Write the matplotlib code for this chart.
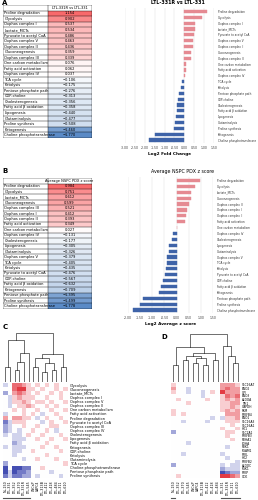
import numpy as np
import matplotlib
matplotlib.use("Agg")
import matplotlib.pyplot as plt
import matplotlib.transforms as mtransforms
from matplotlib.colors import LinearSegmentedColormap, TwoSlopeNorm

W, H = 258, 500

# ---- panel A data ----
a_names = ["Proline degradation", "Glycolysis", "Oxphos complex I", "Lactate_MCTs",
           "Pyruvate to acetyl CoA", "Oxphos complex V", "Oxphos complex II",
           "Gluconeogenesis", "Oxphos complex III", "One carbon metabolism",
           "Fatty acid activation", "Oxphos complex IV", "TCA cycle", "Ketolysis",
           "Pentose phosphate path", "CDP-choline", "Cholesterogenesis",
           "Fatty acid \u03b2 oxidation", "Lipogenesis", "Glutaminolysis",
           "Proline synthesis", "Ketogenesis", "Choline phosphotransferase"]
a_vals = [1.154, 0.902, 0.537, 0.534, 0.486, 0.463, 0.436, 0.359, 0.339, 0.076,
          0.062, 0.037, -0.106, -0.175, -0.276, -0.313, -0.356, -0.358, -0.440,
          -0.477, -0.508, -1.460, -1.770]
a_header = "LTL-331R vs LTL-331"

# ---- panel B data ----
b_names = ["Proline degradation", "Glycolysis", "Lactate_MCTs", "Gluconeogenesis",
           "Oxphos complex III", "Oxphos complex I", "Oxphos complex II",
           "Fatty acid activation", "One carbon metabolism", "Oxphos complex IV",
           "Cholesterogenesis", "Lipogenesis", "Glutaminolysis", "Oxphos complex V",
           "TCA cycle", "Ketolysis", "Pyruvate to acetyl CoA", "CDP-choline",
           "Fatty acid \u03b2 oxidation", "Ketogenesis", "Pentose phosphate path",
           "Proline synthesis", "Choline phosphotransferase"]
b_vals = [0.984, 0.751, 0.612, 0.599, 0.521, 0.412, 0.393, 0.349, 0.027, -0.131,
          -0.177, -0.305, -0.326, -0.379, -0.405, -0.435, -0.476, -0.567, -0.632,
          -0.709, -1.395, -1.499, -1.778]
b_header = "Average NSPC PDX z score"

# ---- panel C data (levels 0..8, 4 = neutral) ----
c_rows = ["Glycolysis", "Gluconeogenesis", "Lactate_MCTs", "Oxphos complex I",
          "Oxphos complex V", "Oxphos complex II", "One carbon metabolism",
          "Fatty acid activation", "Proline degradation", "Pyruvate to acetyl CoA",
          "Oxphos complex III", "Oxphos complex IV", "Cholesterogenesis",
          "Lipogenesis", "Fatty acid \u03b2 oxidation", "Ketogenesis", "CDP-choline",
          "Ketolysis", "Glutaminolysis", "TCA cycle", "Choline phosphotransferase",
          "Pentose phosphate path", "Proline synthesis"]
c_cols = ["NL-150", "LTL-331", "LTL-352", "LTL-370", "LTL-331R", "LTL-545",
          "LNCaP", "LAPC4", "LTL-313B", "LTL-412", "LTL-418", "LTL-484",
          "LTL-311", "LTL-610"]
c_levels = ["34776545454544", "44788554544545", "24676545445454",
            "43565554454454", "43556545545445", "43455654454544",
            "44545445445445", "34445454344544", "64665543454454",
            "13555444345445", "23445445445544", "23434454454344",
            "34334544544454", "44333445445445", "44234444454444",
            "34333444544544", "44334454444454", "44344444454444",
            "44443445444544", "24444444444445", "04001144544444",
            "03011244443444", "13112243444434"]
c_tree = [(0, 1, 0.30), (2, 3, 0.25), (15, 4, 0.40), (16, 5, 0.60), (14, 17, 0.85),
          (6, 7, 0.30), (8, 9, 0.20), (10, 11, 0.25), (12, 13, 0.30),
          (20, 21, 0.38), (19, 23, 0.48), (24, 22, 0.58), (18, 25, 1.0)]
c_groups = [(0, 5)]

# ---- panel D data ----
d_rows = ["SLC16A7", "ENO2", "GPI", "ENO3", "ALDOA", "TPI1", "GAPDH", "PKM",
          "PFKFB4", "ENO1", "SLC16A3", "SLC16A1", "HK1", "SLC2A1", "PFKFB3",
          "PDHA1", "LDHA", "PDK1", "PGAM1", "PFKL", "HK2", "PFKFB2", "ALDOC",
          "PGK1", "PFKP", "GCK"]
d_cols = ["NL-150", "LTL-352", "LTL-370", "LTL-545", "LNCaP", "LAPC4",
          "LTL-313B", "LTL-412", "LTL-418", "LTL-484", "LTL-331", "LTL-331R",
          "LTL-311", "LTL-610"]
d_levels = ["54444444446665", "64434444446766", "54434434548666",
            "44444434445767", "45444445445656", "44454444445566",
            "44444444445565", "54444444445656", "54544444444666",
            "44444444343556", "44344443444555", "44444444444454",
            "44444444445445", "24444444444554", "44444444444544",
            "44444444444454", "44434444444444", "44444444444344",
            "44444444444444", "44344444443444", "44444444444344",
            "44444444444443", "24444444443433", "44444444442333",
            "44444444440122", "45444444448876"]
d_tree = [(0, 1, 0.35), (2, 3, 0.45), (4, 5, 0.40), (6, 7, 0.35), (16, 17, 0.50),
          (15, 18, 0.55), (8, 9, 0.45), (19, 20, 0.60), (14, 21, 0.72),
          (12, 13, 0.40), (11, 23, 0.55), (10, 24, 0.75), (22, 25, 1.0)]
d_groups = [(0, 0), (10, 13)]

cmap_tab = LinearSegmentedColormap.from_list("tab", ["#5a8ac6", "#ffffff", "#f8696b"])
cmap_hm = LinearSegmentedColormap.from_list("hm", ["#2a35a8", "#ffffff", "#e0202a"])
pos_bar, neg_bar = "#e58a92", "#3e63a8"


def box(x0, y0, x1, y1):
    return [x0 / W, 1 - y1 / H, (x1 - x0) / W, (y1 - y0) / H]


fig = plt.figure(figsize=(W / 100, H / 100), dpi=100)


def table(rect, names, vals, header):
    ax = fig.add_axes(box(*rect))
    n = len(vals)
    norm = TwoSlopeNorm(vmin=min(vals), vcenter=0, vmax=max(vals))
    ax.barh(np.arange(n) + 1.5, 0.5, left=0.5, height=1,
            color=[cmap_tab(norm(v)) for v in vals])
    ax.hlines(np.arange(n + 2), 0, 1, color="black", lw=0.3)
    ax.vlines([0, 0.5, 1], 0, n + 1, color="black", lw=0.3)
    for i, (nm, v) in enumerate(zip(names, vals)):
        ax.text(0.01, i + 1.5, nm, fontsize=2.6, va="center", ha="left")
        ax.text(0.75, i + 1.5, "%.3f" % v if v >= 0 else "\u2212%.3f" % -v,
                fontsize=2.6, va="center", ha="center")
    ax.text(0.75, 0.5, header, fontsize=2.6, va="center", ha="center")
    ax.set_xlim(-0.005, 1.005)
    ax.set_ylim(n + 1.02, -0.02)
    ax.axis("off")


def bars(rect, names, vals, xlim, title, title_x, xlabel, tbold):
    ax = fig.add_axes(box(*rect))
    n = len(vals)
    cols = [pos_bar if v > 0 else neg_bar for v in vals]
    ax.barh(np.arange(n), vals, height=0.55, color=cols, edgecolor=cols, lw=0.3)
    ax.set_ylim(n - 0.5, -0.6)
    ax.set_xlim(*xlim)
    ticks = np.arange(xlim[0], xlim[1] + 0.01, 0.5)
    ax.set_xticks(ticks)
    ax.set_xticklabels(["%.2f" % t for t in ticks], fontsize=2.2, color="#333333")
    ax.set_yticks(np.arange(n))
    ax.set_yticklabels(names, fontsize=2.0, color="#333333")
    ax.yaxis.tick_right()
    ax.tick_params(length=0, pad=2)
    ax.tick_params(axis="y", pad=3)
    ax.grid(axis="x", color="#d9d9d9", lw=0.3)
    ax.set_axisbelow(True)
    for s in ax.spines.values():
        s.set_visible(False)
    bb = ax.get_position()
    fig.text(title_x / W, bb.y1 + 2.5 / H, title, fontsize=3.4,
             fontweight="bold" if tbold else "normal", ha="center", va="bottom")
    ax.set_xlabel(xlabel, fontsize=3.1, fontweight="bold", labelpad=1.5)


def dendro(rect, tree, nleaf):
    ax = fig.add_axes(box(*rect))
    xs = {i: float(i) for i in range(nleaf)}
    ys = {i: 0.0 for i in range(nleaf)}
    for k, (a, b, h) in enumerate(tree):
        ax.plot([xs[a], xs[a], xs[b], xs[b]], [ys[a], h, h, ys[b]],
                color="black", lw=0.4)
        xs[nleaf + k] = (xs[a] + xs[b]) / 2
        ys[nleaf + k] = h
    ax.set_xlim(-0.5, nleaf - 0.5)
    ax.set_ylim(0, 1.02)
    ax.axis("off")


def heat(rect, levels, rows, cols, fs, groups):
    ax = fig.add_axes(box(*rect))
    m = np.array([[(int(c) - 4) / 4 for c in r] for r in levels])
    ax.imshow(m, cmap=cmap_hm, vmin=-1.15, vmax=1.15, aspect="auto",
              interpolation="nearest")
    ax.set_yticks(np.arange(len(rows)))
    ax.set_yticklabels(rows, fontsize=fs)
    ax.yaxis.tick_right()
    ax.set_xticks(np.arange(len(cols)))
    ax.set_xticklabels(cols, fontsize=2.3, rotation=90)
    ax.tick_params(length=0, pad=1.5)
    for s in ax.spines.values():
        s.set_visible(False)
    tr = mtransforms.blended_transform_factory(ax.transData, fig.transFigure)
    for g0, g1 in groups:
        ax.plot([g0 - 0.4, g1 + 0.4], [1.6 / H, 1.6 / H], color="#555555",
                lw=0.8, transform=tr, clip_on=False)
    return ax


table((3, 5, 92, 138), a_names, a_vals, a_header)
bars((125, 8, 214, 143), a_names, a_vals, (-3.0, 1.5), a_header, 178,
     "Log2 Fold Change", True)
table((3, 178, 92, 309), b_names, b_vals, b_header)
bars((128, 177, 213, 313), b_names, b_vals, (-2.0, 1.5), b_header, 183,
     "Log2 Average z score", False)

dendro((3, 332, 68, 382), c_tree, len(c_cols))
heat((3, 383, 68, 478), c_levels, c_rows, c_cols, 2.5, c_groups)
dendro((171, 333, 240, 382), d_tree, len(d_cols))
heat((171, 383, 240, 478), d_levels, d_rows, d_cols, 2.2, d_groups)

for lab, x, y in [("A", 2, 6), ("B", 2, 174), ("C", 3, 330), ("D", 161, 340)]:
    fig.text(x / W, 1 - y / H, lab, fontsize=5, fontweight="bold", va="bottom")

fig.savefig("out.png", dpi=100)
